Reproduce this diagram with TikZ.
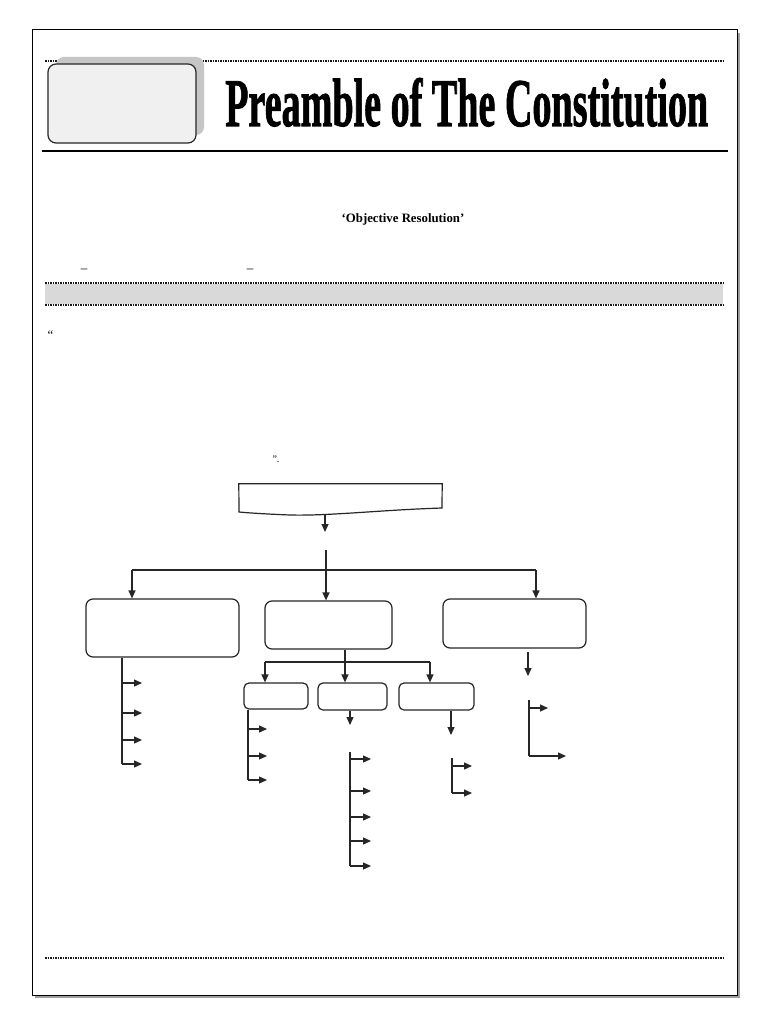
\documentclass[tikz,border=0pt]{standalone}
\usepackage{fontspec}
\setmainfont{Liberation Serif}
\newfontfamily\titlefont{Liberation Serif}[FakeBold=1.5]
\usetikzlibrary{arrows.meta}
\begin{document}
\begin{tikzpicture}[x=1pt,y=-1pt,
  conn/.style={line width=1.2pt, draw=black!85},
  arr/.style={conn,-{Triangle[length=8pt,width=7pt]}},
  rbox/.style={draw=black!85, line width=1.2pt, rounded corners=7pt, inner sep=0pt},
  sbox/.style={rbox, rounded corners=5pt},
  dotline/.style={line width=2pt, dash pattern=on 1.6pt off 0.9pt, black!90},
]
\useasboundingbox (0,0) rectangle (768,1024);
\fill[white] (0,0) rectangle (768,1024);

% page frame with shadow
\draw[gray!75, line width=2.5pt] (35,997) -- (739,997) -- (739,33);
\draw[black, line width=1pt] (32,30) rectangle (737,995);

% header
\draw[dotline] (45,61) -- (723,61);
\fill[gray!45, rounded corners=8pt] (56,57) rectangle (204,135);
\node[rbox, rounded corners=8pt, fill=gray!12, minimum width=148pt, minimum height=79pt] (hbox) at (122,103.5) {};
\node[anchor=base west, inner sep=0pt] (title) at (225,126)
  {\resizebox{483pt}{48pt}{\titlefont\bfseries Preamble of The Constitution}};
\draw[black, line width=2.6pt] (42,151) -- (728,151);

% text lines
\node[font=\bfseries\fontsize{12.8}{14}\selectfont] (obj) at (403,219) {‘Objective Resolution’};
\node[font=\fontsize{13}{14}\selectfont, inner sep=0pt] (d1) at (84,271) {–};
\node[font=\fontsize{13}{14}\selectfont, inner sep=0pt] (d2) at (250,271) {–};

% grey band
\fill[gray!30] (45,284) rectangle (723,304);
\draw[dotline] (45,283) -- (723,283);
\draw[dotline] (45,305) -- (723,305);

\node[font=\itshape\fontsize{13}{14}\selectfont, inner sep=0pt] (q1) at (50,335) {“};
\node[font=\fontsize{10}{12}\selectfont, inner sep=0pt] (q2) at (276,459) {”.};

% top document box
\node[minimum width=203pt, minimum height=28pt, inner sep=0pt] (top) at (340.5,498) {};
\draw[black!85, line width=1.2pt] (top.north west) -- (top.north east) -- (442,508)
  .. controls (380,510) and (330,516) .. (290,515)
  .. controls (265,514) and (250,513) .. (239,512) -- cycle;
\coordinate (topb) at (325,515);
\coordinate (topa) at (325,532);
\draw[arr] (topb) -- (topa);

% level 1 boxes
\node[rbox, minimum width=153pt, minimum height=58pt] (L) at (162.5,628) {};
\node[rbox, minimum width=127pt, minimum height=48pt] (M) at (328.5,625) {};
\node[rbox, minimum width=143pt, minimum height=49pt] (R) at (514.5,623.5) {};

\coordinate (hub) at (326,550);
\coordinate (hC) at (326,570);
\coordinate (hL) at (132,570);
\coordinate (hR) at (536,570);
\draw[conn] (hL) -- (hR);
\draw[arr] (hub) -- (M.north -| hC);
\draw[arr] (hL) -- (L.north -| hL);
\draw[arr] (hR) -- (R.north -| hR);

% left box branch
\coordinate (lb) at (122,764);
\draw[conn] (L.south -| lb) -- (lb);
\foreach \yy in {683,713,740,764} \draw[arr] (122,\yy) -- (142,\yy);

% level 2 boxes
\node[sbox, minimum width=64pt, minimum height=26pt] (A) at (276,696) {};
\node[sbox, minimum width=69pt, minimum height=27pt] (B) at (352.5,696.5) {};
\node[sbox, minimum width=75pt, minimum height=27pt] (C) at (436.5,696.5) {};

\coordinate (mh) at (345,662);
\coordinate (mhA) at (265,662);
\coordinate (mhC) at (430,662);
\draw[conn] (M.south -| mh) -- (mh);
\draw[conn] (mhA) -- (mhC);
\draw[arr] (mhA) -- (A.north -| mhA);
\draw[arr] (mh) -- (B.north -| mh);
\draw[arr] (mhC) -- (C.north -| mhC);

% A branch
\coordinate (ab) at (248,780);
\draw[conn] (A.south -| ab) -- (ab);
\foreach \yy in {729,756,780} \draw[arr] (248,\yy) -- (267,\yy);

% B branch
\coordinate (bt) at (350,725);
\draw[arr] (B.south -| bt) -- (bt);
\coordinate (bv1) at (350,752);
\coordinate (bv2) at (350,866);
\draw[conn] (bv1) -- (bv2);
\foreach \yy in {759,791,817,841,866} \draw[arr] (350,\yy) -- (371,\yy);

% C branch
\coordinate (ct) at (451,735);
\draw[arr] (C.south -| ct) -- (ct);
\coordinate (cv1) at (452,758);
\coordinate (cv2) at (452,793);
\draw[conn] (cv1) -- (cv2);
\foreach \yy in {766,793} \draw[arr] (452,\yy) -- (472,\yy);

% R branch
\coordinate (rt) at (528,676);
\draw[arr] (528,652) -- (rt);
\coordinate (rv1) at (529,700);
\coordinate (rv2) at (529,756);
\draw[conn] (rv1) -- (rv2);
\draw[arr] (529,708) -- (548,708);
\draw[arr] (529,756) -- (566,756);

% bottom dotted line
\draw[dotline] (45,958) -- (723,958);
\end{tikzpicture}
\end{document}
